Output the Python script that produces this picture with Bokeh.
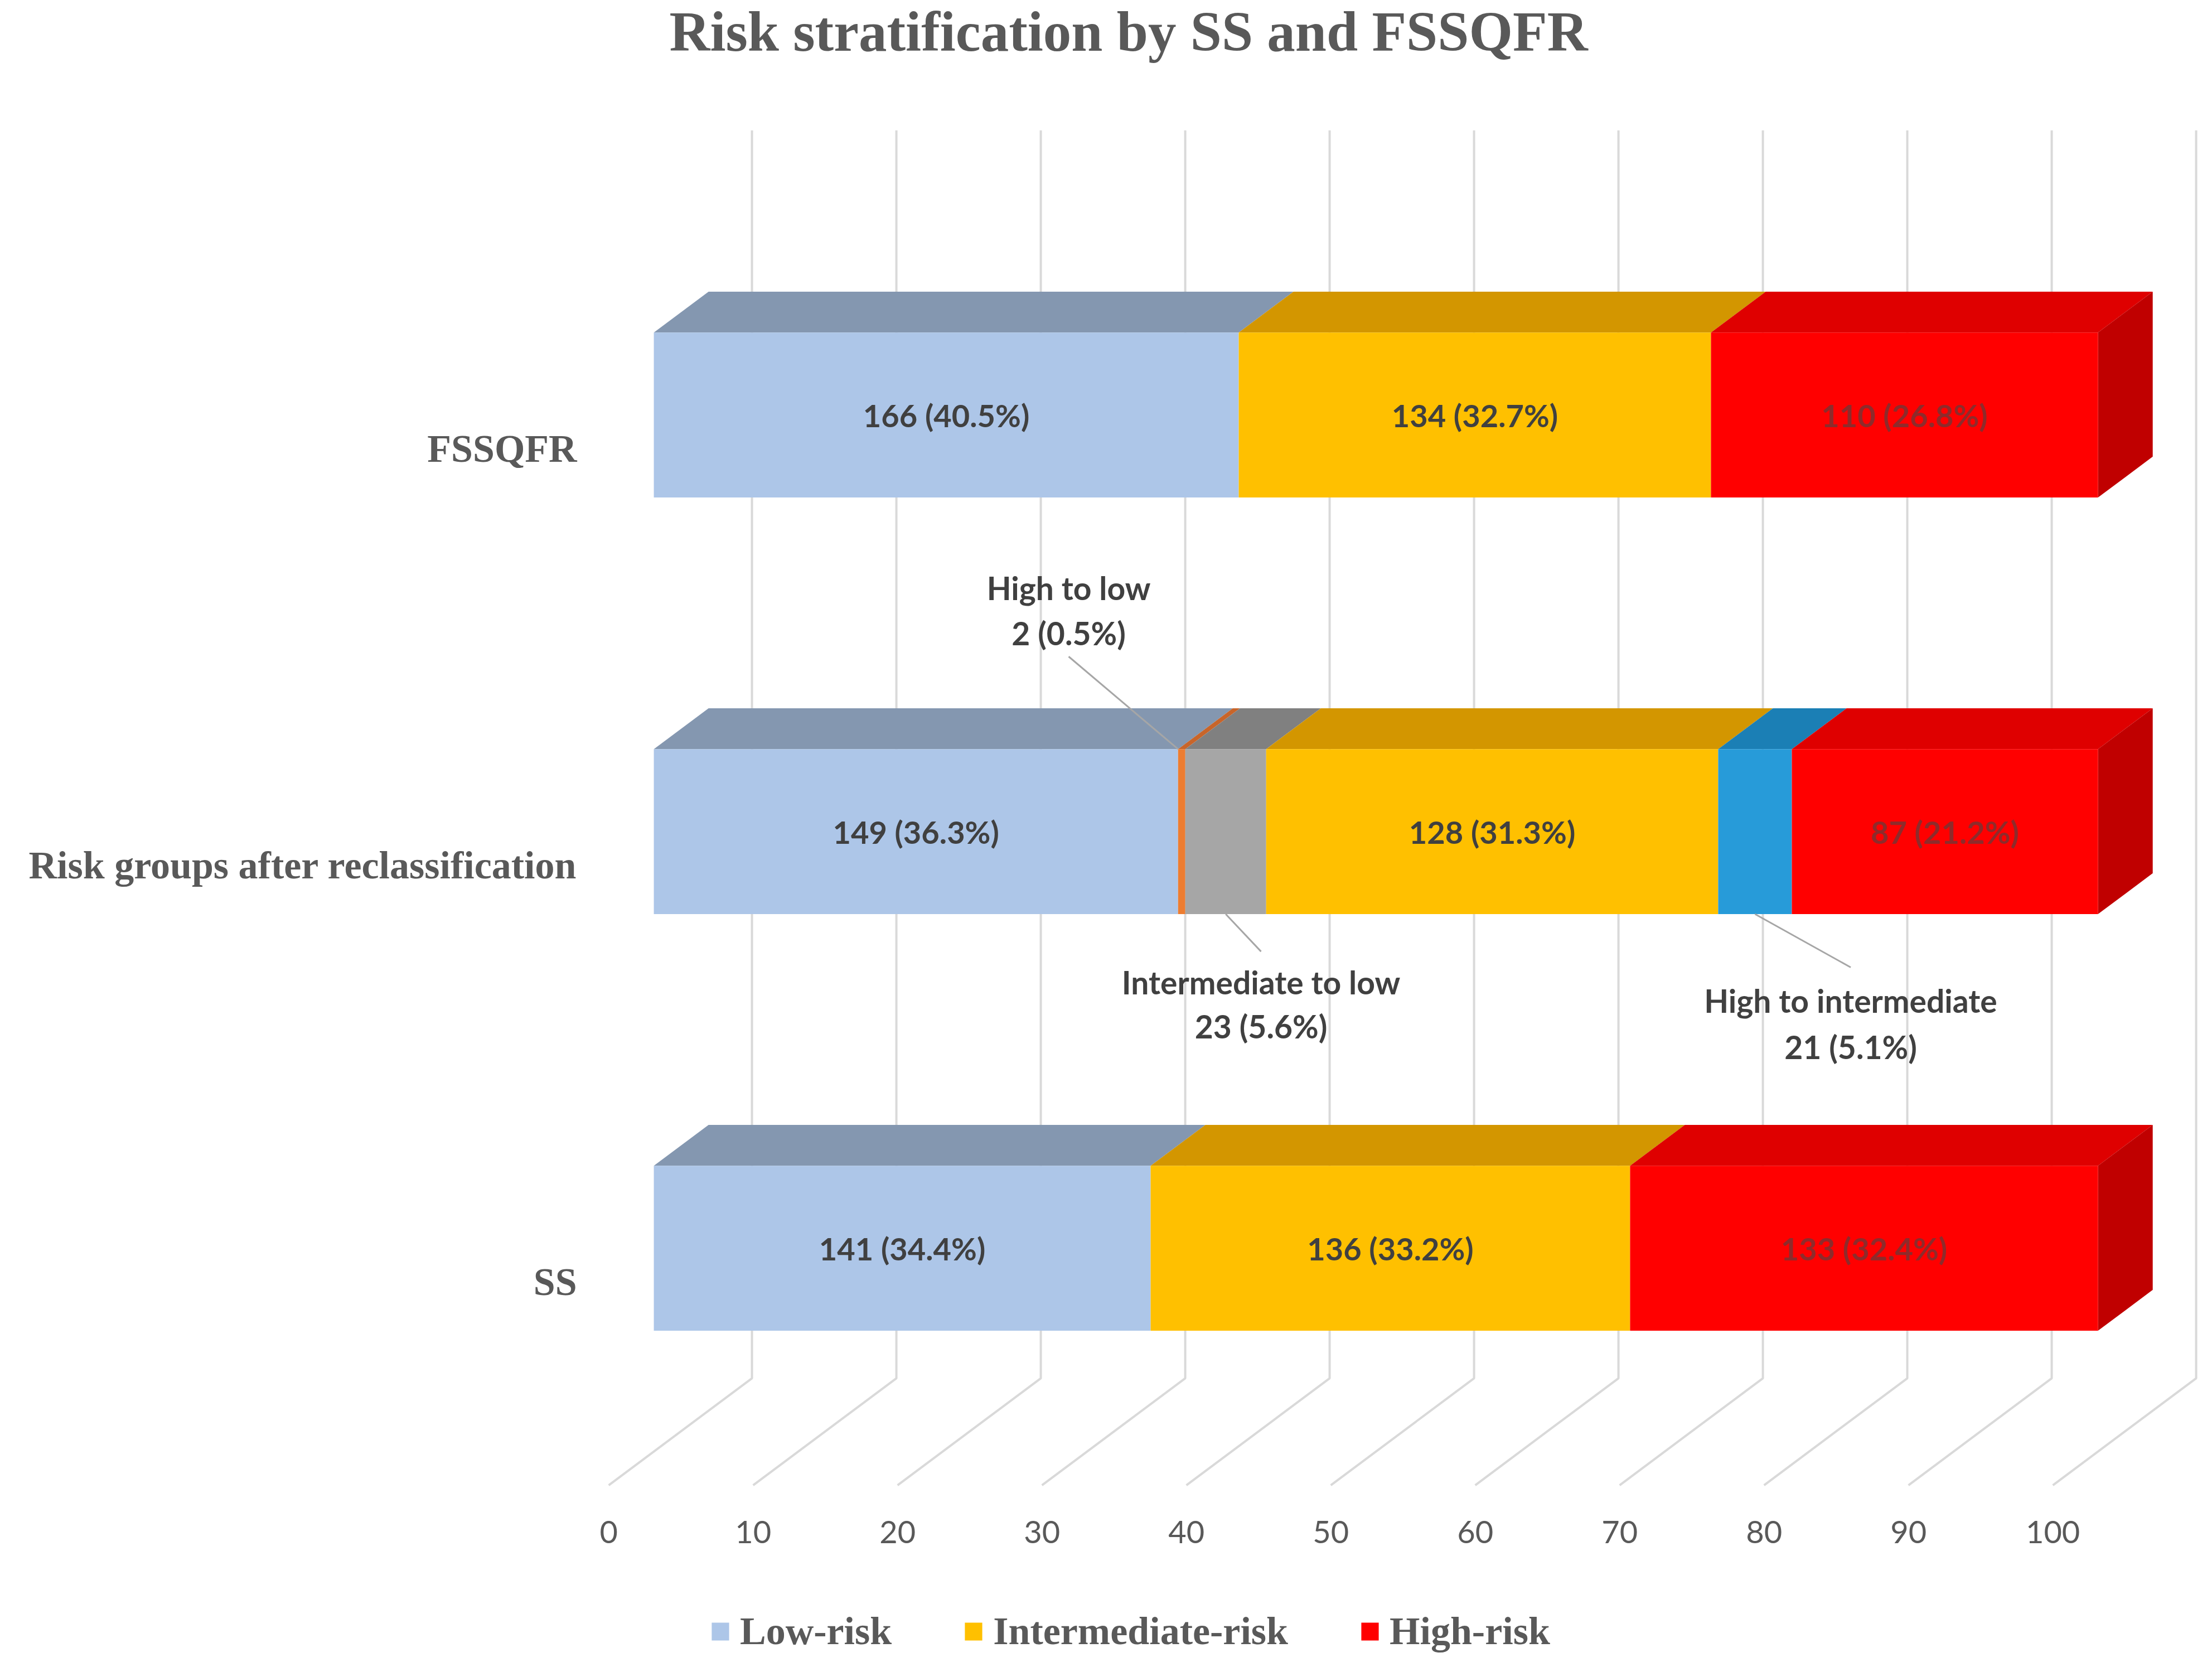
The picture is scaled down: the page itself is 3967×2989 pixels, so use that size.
from bokeh.plotting import figure
from bokeh.models import ColumnDataSource, Range1d, Legend, LegendItem
from bokeh.core.properties import value
from bokeh.embed import file_html
from bokeh.resources import INLINE

# ---------------- data ----------------
TITLE = "Risk stratification by SS and FSSQFR"
CATEGORIES = ["SS", "Risk groups after reclassification", "FSSQFR"]
TICKS = [0, 10, 20, 30, 40, 50, 60, 70, 80, 90, 100]

SS_KINDS = ["low", "int", "high"]
SS_COUNTS = [141, 136, 133]
SS_PCT = [34.4, 33.2, 32.4]

RE_KINDS = ["low", "h2l", "i2l", "int", "h2i", "high"]
RE_COUNTS = [149, 2, 23, 128, 21, 87]
RE_PCT = [36.3, 0.5, 5.6, 31.3, 5.1, 21.2]

FS_KINDS = ["low", "int", "high"]
FS_COUNTS = [166, 134, 110]
FS_PCT = [40.5, 32.7, 26.8]

LEGEND_LABELS = {"low": "Low-risk", "int": "Intermediate-risk", "high": "High-risk"}
ANNOT_LABELS = {"h2l": "High to low", "i2l": "Intermediate to low", "h2i": "High to intermediate"}

# ---------------- styles / geometry ----------------
FRONT = {"low": "#adc6e8", "h2l": "#ed7d31", "i2l": "#a6a6a6",
         "int": "#ffc000", "h2i": "#279bd9", "high": "#ff0000"}
TOP = {"low": "#8497b0", "h2l": "#c8652a", "i2l": "#808080",
       "int": "#d39600", "h2i": "#1b7fb5", "high": "#df0000"}
SIDE = "#c00000"
LABEL_COLOR = {"low": "#404040", "int": "#404040", "high": "#8e2b2b"}
GRAY_TXT = "#595959"

DX = 9.92      # full depth, x data units
DY = 0.2566    # full depth, y data units
D1 = 0.315     # bar front plane depth fraction
D2 = 0.697     # bar back plane depth fraction
H = 0.396      # bar front face height
FLOOR = -0.488
WALL_TOP = 2.764
TICK_Y = -0.60
CAT_X = -2.2
TITLE_X, TITLE_Y = 36.0, 3.0

# annotation layout: text x, line1 y, line2 y, leader end y
ANNOT_POS = {"h2l": (31.85, 1.666, 1.557, 1.501),
             "i2l": (45.17, 0.719, 0.614, 0.793),
             "h2i": (86.0, 0.676, 0.564, 0.755)}

p = figure(width=3951, height=2973,
           x_range=Range1d(-42.13, 110.42), y_range=Range1d(-0.9036, 3.0763),
           x_axis_location=None, y_axis_location=None,
           toolbar_location=None, output_backend="svg",
           min_border=0)
p.outline_line_color = None
p.background_fill_color = "white"
p.border_fill_color = "white"
p.grid.visible = False

# title
p.text(x=[TITLE_X], y=[TITLE_Y], text=[TITLE], text_font=value("Liberation Serif"),
       text_font_style="bold", text_font_size="101px", text_color=GRAY_TXT,
       text_align="center", text_baseline="alphabetic")

# category labels
p.text(x=[CAT_X] * 3, y=[0, 1, 2], text=CATEGORIES, text_font=value("Liberation Serif"),
       text_font_style="bold", text_font_size="70px", text_color=GRAY_TXT,
       text_align="right", text_baseline="middle")

# gridlines (floor diagonal + back wall vertical)
gxs = [[t, t + DX, t + DX] for t in TICKS]
gys = [[FLOOR, FLOOR + DY, WALL_TOP] for t in TICKS]
p.multi_line(xs=gxs, ys=gys, line_color="#d9d9d9", line_width=4)

# tick labels
p.text(x=TICKS, y=[TICK_Y] * len(TICKS), text=[str(t) for t in TICKS],
       text_font=value("Lato"), text_font_size="56px", text_color=GRAY_TXT,
       text_align="center", text_baseline="middle")

rows = [(0, SS_KINDS, SS_COUNTS, SS_PCT),
        (1, RE_KINDS, RE_COUNTS, RE_PCT),
        (2, FS_KINDS, FS_COUNTS, FS_PCT)]

front = {k: dict(y=[], left=[], right=[]) for k in FRONT}
top = dict(xs=[], ys=[], color=[])
side = dict(xs=[], ys=[])
labels = dict(x=[], y=[], text=[], color=[])
segs = {}

for c, kinds, counts, pcts in rows:
    start = 0.0
    yf = c + D1 * DY
    yb = c + D2 * DY
    for i, (k, n, pc) in enumerate(zip(kinds, counts, pcts)):
        end = start + pc
        front[k]["y"].append(yf)
        front[k]["left"].append(start + D1 * DX)
        front[k]["right"].append(end + D1 * DX)
        top["xs"].append([start + D1 * DX, end + D1 * DX, end + D2 * DX, start + D2 * DX])
        top["ys"].append([yf + H / 2, yf + H / 2, yb + H / 2, yb + H / 2])
        top["color"].append(TOP[k])
        if i == len(kinds) - 1:
            side["xs"].append([end + D1 * DX, end + D1 * DX, end + D2 * DX, end + D2 * DX])
            side["ys"].append([yf - H / 2, yf + H / 2, yb + H / 2, yb - H / 2])
        if k in LABEL_COLOR:
            labels["x"].append((start + end) / 2 + D1 * DX)
            labels["y"].append(yf)
            labels["text"].append(f"{n} ({pc}%)")
            labels["color"].append(LABEL_COLOR[k])
        else:
            segs[k] = (start, end, yf, n, pc)
        start = end

p.patches(xs="xs", ys="ys", fill_color="color", line_color=None, source=ColumnDataSource(top))
p.patches(xs="xs", ys="ys", fill_color=SIDE, line_color=None, source=ColumnDataSource(side))

front_r = {}
for k, d in front.items():
    front_r[k] = p.hbar(y="y", left="left", right="right", height=H, fill_color=FRONT[k],
                        line_color=None, source=ColumnDataSource(d))

p.text(x="x", y="y", text="text", text_color="color", source=ColumnDataSource(labels),
       text_font=value("Lato"), text_font_style="bold", text_font_size="56px",
       text_align="center", text_baseline="middle")

# reclassification annotations with leader lines
ann = dict(x=[], y=[], text=[])
lx0, ly0, lx1, ly1 = [], [], [], []
for k, (tx, y1, y2, yl) in ANNOT_POS.items():
    s, e, yf, n, pc = segs[k]
    ann["x"] += [tx, tx]
    ann["y"] += [y1, y2]
    ann["text"] += [ANNOT_LABELS[k], f"{n} ({pc}%)"]
    if k == "h2l":
        ax_, ay_ = s + D1 * DX, yf + H / 2
    else:
        ax_, ay_ = (s + e) / 2 + D1 * DX, yf - H / 2
    lx0.append(ax_); ly0.append(ay_); lx1.append(tx); ly1.append(yl)

p.segment(x0=lx0, y0=ly0, x1=lx1, y1=ly1, line_color="#a6a6a6", line_width=3)
p.text(x="x", y="y", text="text", source=ColumnDataSource(ann), text_color="#404040",
       text_font=value("Lato"), text_font_style="bold", text_font_size="57px",
       text_align="center", text_baseline="middle")

legend = Legend(items=[LegendItem(label=LEGEND_LABELS[k], renderers=[front_r[k]])
                       for k in ("low", "int", "high")],
                orientation="horizontal", location=(1272, 8),
                background_fill_alpha=0, border_line_color=None,
                padding=0, margin=0, spacing=127, label_standoff=16,
                glyph_width=39, glyph_height=40,
                label_text_font="Liberation Serif", label_text_font_style="bold",
                label_text_font_size="70px", label_text_color=GRAY_TXT)
p.add_layout(legend)

open("out.html", "w").write(file_html(p, INLINE))
